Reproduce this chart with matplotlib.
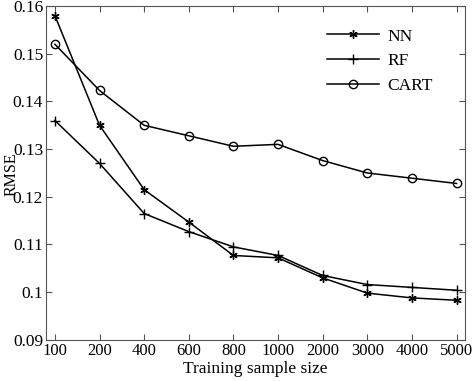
import matplotlib
matplotlib.use("Agg")
import matplotlib.pyplot as plt

sizes = ["100", "200", "400", "600", "800", "1000", "2000", "3000", "4000", "5000"]
nn = [0.158, 0.135, 0.1215, 0.1147, 0.1077, 0.1072, 0.1030, 0.0998, 0.0988, 0.0983]
rf = [0.136, 0.127, 0.1165, 0.1127, 0.1095, 0.1077, 0.1035, 0.1016, 0.1010, 0.1004]
cart = [0.152, 0.1423, 0.1350, 0.1328, 0.1306, 0.1310, 0.1276, 0.1250, 0.1239, 0.1228]
yticks = [0.09, 0.10, 0.11, 0.12, 0.13, 0.14, 0.15, 0.16]
ylabels = ["0.09", "0.1", "0.11", "0.12", "0.13", "0.14", "0.15", "0.16"]

plt.rcParams["font.family"] = ["Liberation Serif", "DejaVu Serif"]
plt.rcParams["font.size"] = 12.5

fig = plt.figure(figsize=(4.74, 3.81), dpi=100)
ax = fig.add_axes([0.097, 0.108, 0.885, 0.876])
x = range(1, len(sizes) + 1)
ax.plot(x, nn, "k-", marker=(6, 2, 0), markersize=6, lw=1.1, label="NN")
ax.plot(x, rf, "k-", marker="+", markersize=7, lw=1.1, label="RF")
ax.plot(x, cart, "k-", marker="o", markersize=6, mfc="none", lw=1.1, label="CART")

ax.set_xlim(0.8, 10.2)
ax.set_ylim(0.09, 0.16)
ax.set_xticks(list(x))
ax.set_xticklabels(sizes, fontsize=12)
ax.set_yticks(yticks)
ax.set_yticklabels(ylabels)
ax.tick_params(direction="in", top=True, right=True, length=4, pad=2, color="#555555")
for s in ax.spines.values():
    s.set_color("#555555")
ax.set_xlabel("Training sample size", labelpad=2)
ax.set_ylabel("RMSE", fontsize=11.5)
ax.yaxis.set_label_coords(-0.062, 0.497)
ax.legend(loc="upper right", frameon=False, handlelength=3.0, handletextpad=0.5,
          labelspacing=0.5, bbox_to_anchor=(0.96, 0.98))
fig.savefig("out.png", dpi=100)
